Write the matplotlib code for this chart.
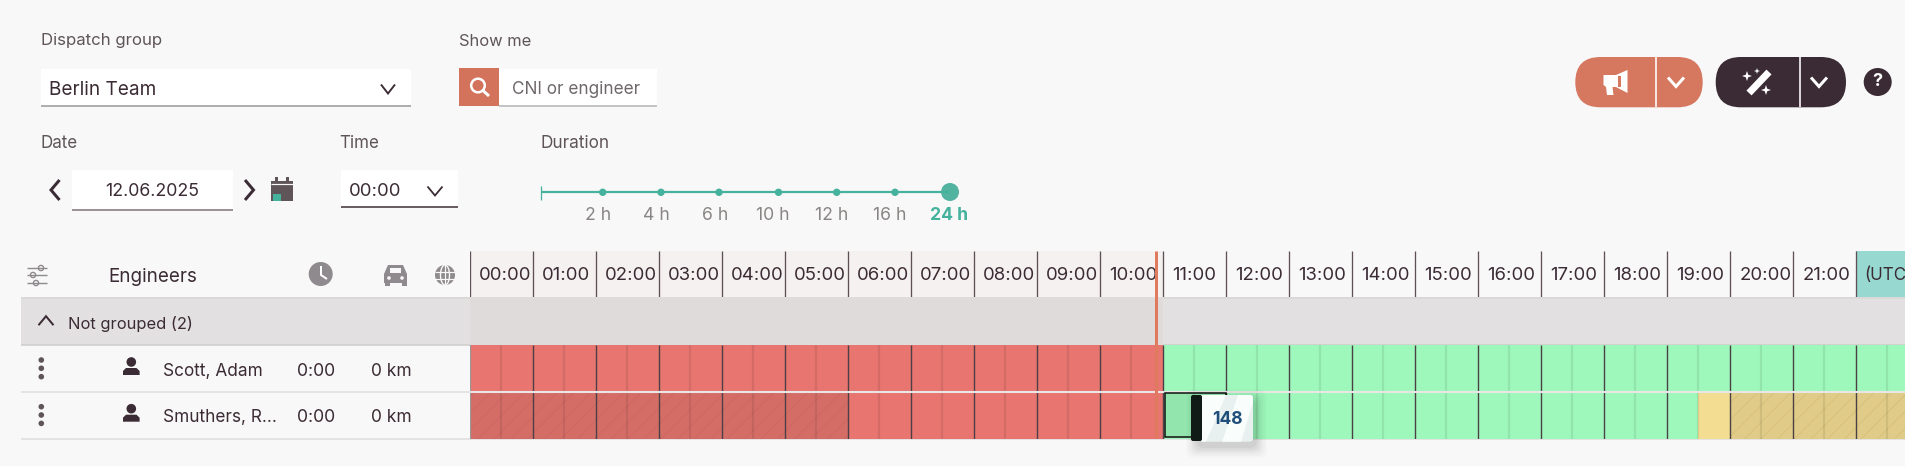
import matplotlib
matplotlib.use("Agg")
import matplotlib.pyplot as plt
from matplotlib.patches import Rectangle, FancyBboxPatch, Circle, Polygon, Ellipse

W, H = 1906, 466
plt.rcParams['font.family'] = ['Inter', 'DejaVu Sans']
plt.rcParams['hatch.linewidth'] = 0.8

# ---- data ----
hour_labels = ["00:00","01:00","02:00","03:00","04:00","05:00","06:00","07:00","08:00","09:00","10:00",
               "11:00","12:00","13:00","14:00","15:00","16:00","17:00","18:00","19:00","20:00","21:00"]
duration_labels = ["2 h","4 h","6 h","10 h","12 h","16 h","24 h"]
engineers = ["Scott, Adam","Smuthers, R..."]
eng_hours = ["0:00","0:00"]
eng_km = ["0 km","0 km"]
# half-hour slots per engineer: p=past red, h=past hatched, g=free green, y=yellow, t=hatched tan
slots_scott = "p"*22 + "g"*24
slots_smuthers = "h"*12 + "p"*10 + "g"*17 + "y"*1 + "t"*6
tooltip_value = "148"

SLOT = {'p':('#e8756f',None,None),'h':('#d56d67','#cf6863','//'),'g':('#9ef8bb',None,None),
        'y':('#f3dd93',None,None),'t':('#e0cc88','#d8c27c','//')}
BG='#f8f8f8'; DARK='#3b2b34'; GREY='#5f5558'; TEAL='#45b29d'; ORANGE='#d67860'; ICON='#8f8a8d'

fig = plt.figure(figsize=(W/100, H/100), dpi=100, facecolor=BG)

def px_axes(z):
    a = fig.add_axes([0,0,1,1], zorder=z)
    a.set_xlim(0,W); a.set_ylim(H,0); a.axis('off'); a.patch.set_alpha(0)
    return a
ui = px_axes(0)
top = px_axes(5)

def fs(px): return px*0.72
def T(a,x,y,s,px=16,c=DARK,ha='left',w='normal',**k):
    return a.text(x,y,s,fontsize=fs(px),color=c,ha=ha,va='center',fontweight=w,**k)
def R(a,x0,y0,x1,y1,c,**k):
    a.add_patch(Rectangle((x0,y0),x1-x0,y1-y0,facecolor=c,edgecolor='none',**k))
def L(a,xs,ys,c=DARK,lw=1.0,**k):
    a.plot(xs,ys,color=c,lw=lw*0.72,solid_capstyle=k.pop('cap','butt'),solid_joinstyle='miter',**k)
def chev(a,x,y,c=DARK,w=7,h=4.5,lw=1.9,up=False):
    s=-1 if up else 1
    L(a,[x-w,x,x+w],[y-s*h,y+s*h,y-s*h],c,lw)
def pill(a,x0,y0,x1,y1,c):
    r=(y1-y0)/2
    a.add_patch(FancyBboxPatch((x0+r,y0+r),x1-x0-2*r,0.01,boxstyle=f"round,pad={r},rounding_size={r}",
                               facecolor=c,edgecolor='none',mutation_aspect=1))

# ---- form controls ----
T(ui,41,41,"Dispatch group",16.8,GREY)
T(ui,459,41,"Show me",16.5,GREY)
R(ui,41,69,411,105,'white'); L(ui,[41,411],[105.5,105.5],'#9a9698',1.5)
T(ui,49,90,"Berlin Team",19,DARK); chev(ui,388,89)
R(ui,499,69,657,105,'white'); L(ui,[499,657],[105.5,105.5],'#b5b2b3',1.5)
T(ui,512,89,"CNI or engineer",17.2,'#6f686b')
R(ui,459,68,499,105.5,'#d4735c')
ui.add_patch(Circle((478,85.5),6.8,facecolor='none',edgecolor='white',lw=1.8))
L(ui,[483,489],[90.5,96],'white',3)

T(ui,41,143.5,"Date",17,GREY); T(ui,339.5,143.5,"Time",17,GREY); T(ui,540.5,143.5,"Duration",17.2,GREY)
L(ui,[59.5,51,59.5],[180,190,200],DARK,3)
R(ui,72,170,232.6,209,'white'); L(ui,[72,232.6],[209.5,209.5],'#7f7276',1.5)
T(ui,152,192,"12.06.2025",17.8,DARK,ha='center')
L(ui,[245,253.5,245],[180,190,200],DARK,3)
R(ui,271,181,293,201,'#5f5558'); R(ui,275,177,278,181,'#5f5558'); R(ui,286,177,289,181,'#5f5558')
L(ui,[271,293],[184,184],BG,1.2); R(ui,273,194,281,201,TEAL)
R(ui,341,170,458.5,206.5,'white'); L(ui,[341,458.5],[207,207],DARK,1.5)
T(ui,348.7,192,"00:00",18.5,DARK); chev(ui,435,191,DARK,w=7.5,h=4.5,lw=1.8)

# slider
sx=[602.7,661,719,778.5,836.7,895,950]
lx=[598.7,657,715.7,774,832.7,891,949.7]
L(ui,[541,950],[192.3,192.3],TEAL,2.2); L(ui,[541,541],[185.5,200],TEAL,1.3)
for x in sx[:-1]:
    ui.add_patch(Circle((x,192.3),3.7,facecolor=TEAL,edgecolor='none'))
ui.add_patch(Circle((sx[-1],192),9,facecolor='#52b3a0',edgecolor='none'))
for i,(x,s) in enumerate(zip(lx,duration_labels)):
    last=i==len(lx)-1
    T(ui,x-1,215.5,s,17.6,TEAL if last else '#8a8585',ha='center',w='bold' if last else 'normal')

# buttons
pill(ui,1575.3,57,1702.7,107.3,ORANGE)
L(ui,[1656.3,1656.3],[57,107],'white',1.6)
ui.add_patch(Polygon([(1603.5,75),(1616,75),(1627.5,70),(1627.5,93),(1616,87),(1612.5,87),(1613.5,95),(1607,95),(1606,87),(1603.5,85)],facecolor='white',edgecolor='none'))
R(ui,1618.5,76,1621,87,ORANGE)
chev(ui,1676,82,'white',w=8,h=4.5,lw=3)
pill(ui,1715.7,57,1846,107.3,DARK)
L(ui,[1800,1800],[57,107],'white',1.6)
L(ui,[1749,1769],[93,72],'white',7)
for (x,y,r) in [(1747,76,5),(1757,71,3),(1766,90,5)]:
    ui.add_patch(Polygon([(x-r,y),(x-r*.25,y-r*.25),(x,y-r),(x+r*.25,y-r*.25),(x+r,y),(x+r*.25,y+r*.25),(x,y+r),(x-r*.25,y+r*.25)],facecolor='white',edgecolor='none'))
chev(ui,1819,82,'white',w=8,h=4.5,lw=3)
ui.add_patch(Circle((1877.7,82),14,facecolor=DARK,edgecolor='none'))
T(ui,1877.7,82,"?",18,'white',ha='center',w='bold')

# ---- table left side ----
for y,cx in [(268,41),(275,33),(283,36)]:
    L(ui,[27,47],[y,y],ICON,1.4)
    ui.add_patch(Circle((cx,y),2.6,facecolor=BG,edgecolor=ICON,lw=1))
T(ui,108.5,276.5,"Engineers",18.8,DARK)
ui.add_patch(Circle((320.7,274),12,facecolor=ICON,edgecolor='none'))
L(ui,[321,321,327],[266,275,279],'white',2)
ui.add_patch(Polygon([(384,274),(388,265),(403,265),(407,274),(407,283),(384,283)],facecolor=ICON,edgecolor='none'))
R(ui,385,282,390,285.5,ICON); R(ui,402,282,407,285.5,ICON)
R(ui,390,267.5,401,273,BG)
ui.add_patch(Circle((389,278),1.8,facecolor=BG,edgecolor='none')); ui.add_patch(Circle((402,278),1.8,facecolor=BG,edgecolor='none'))
ui.add_patch(Circle((445,275),10,facecolor=ICON,edgecolor='none'))
ui.add_patch(Ellipse((445,275),9,20,facecolor='none',edgecolor=BG,lw=1))
L(ui,[445,445],[265,285],BG,1.2); L(ui,[435,455],[272,272],BG,1.2); L(ui,[435,455],[278.5,278.5],BG,1.2)

R(ui,21,297,W,345,'#e2e0e1')
L(ui,[21,W],[297.5,297.5],'#d9d6d6',1.5); L(ui,[21,W],[344.7,344.7],'#cfcbcb',1.5)
chev(ui,46,320.7,DARK,w=7.5,h=4.5,lw=2,up=True)
T(ui,68.3,323.5,"Not grouped (2)",16.5,DARK)
L(ui,[21,471],[391.7,391.7],'#e0dede',1.5); L(ui,[21,W],[438.7,438.7],'#dedcdc',1.5)

for i,(nm,hr,km) in enumerate(zip(engineers,eng_hours,eng_km)):
    y=370+i*46.7
    for d in (-10,-1.7,6.7):
        ui.add_patch(Circle((41.3,y+d),2.8,facecolor='#5f5558',edgecolor='none'))
    ui.add_patch(Circle((131.3,y-8),4.8,facecolor=DARK,edgecolor='none'))
    ui.add_patch(Polygon([(123,y+5),(123,y+1),(126,y-2),(136.5,y-2),(139.6,y+1),(139.6,y+5)],facecolor=DARK,edgecolor='none'))
    T(ui,162.7,y+1.2,nm,17.2,DARK); T(ui,296.7,y+1.2,hr,17.6,DARK); T(ui,371.3,y+1.2,km,17.4,DARK)

# ---- timeline (x axis in hours) ----
X0=469.9; HOUR=63.0; N_HOURS=(W-X0)/HOUR
def time_axes(y0,y1,z):
    a=fig.add_axes([X0/W,1-y1/H,(W-X0)/W,(y1-y0)/H],zorder=z)
    a.set_xlim(0,N_HOURS); a.axis('off'); a.patch.set_alpha(0)
    return a
hdr=time_axes(250.7,296.7,1); hdr.set_ylim(0,1)
now_hour=11
hdr.bar([i+.5 for i in range(now_hour)],1,width=1,bottom=0,color='#f5f1f0',linewidth=0)
hdr.bar([22+(N_HOURS-22)/2],1,width=N_HOURS-22,bottom=0,color='#97d9d1',linewidth=0)
hdr.vlines(range(0,23),0,1,color='#5f5055',lw=0.95)
for i,s in enumerate(hour_labels):
    hdr.text(i+.149,.46,s,fontsize=fs(18.5),color=DARK,ha='left',va='center')
hdr.text(22.14,.46,"(UTC",fontsize=fs(17),color=DARK,ha='left',va='center')

band=time_axes(297,345,1); band.set_ylim(0,1)
band.bar(now_hour/2,1,width=now_hour,color='#dfdbda',linewidth=0)

rows=time_axes(345,438.5,2); rows.set_ylim(2,0)
for r,slots in enumerate([slots_scott,slots_smuthers]):
    for st in 'phgyt':
        xs=[j*.5+.25 for j,c in enumerate(slots) if c==st]
        if not xs: continue
        fc,ec,ht=SLOT[st]
        rows.bar(xs,1,width=.5,bottom=r,color=fc,edgecolor=ec if ec else fc,hatch=ht,linewidth=0,align='center')
half=[j*.5 for j in range(1,46,2)]
rows.vlines(half,0,2,color='#000000',alpha=.08,lw=1.6)
rows.vlines(range(1,23),0,2,color='#4a4045',lw=1.0)
rows.vlines([0],0,2,color='#9a9698',lw=1.6)
rows.hlines(1,0,N_HOURS,color='#e8e6e6',lw=1.5)

# ---- selection + tooltip + now-line ----
R(top,1165,393,1226,437,'#000000',alpha=.07)
top.add_patch(Rectangle((1165,393),61,44,facecolor='none',edgecolor='#111111',lw=1.1))
for grow,al in [(24,.015),(20,.02),(16,.025),(12,.03),(8,.035),(4,.04)]:
    top.add_patch(FancyBboxPatch((1198-grow/2,397-grow/2+4),57+grow,45+grow,boxstyle="round,pad=0,rounding_size=8",facecolor='#000000',edgecolor='none',alpha=al))
tip=FancyBboxPatch((1200,395),53,46.7,boxstyle="round,pad=0,rounding_size=3",facecolor='#e9f1f0',edgecolor='none')
top.add_patch(tip)
for pts in ([(1200,395),(1226,395),(1206,442),(1200,442)],[(1238,395),(1253,395),(1253,402),(1241,442),(1222,442)]):
    p=Polygon(pts,facecolor='#f9fdfc',edgecolor='none'); top.add_patch(p); p.set_clip_path(tip)
top.add_patch(FancyBboxPatch((1191,395),11,46,boxstyle="round,pad=0,rounding_size=2",facecolor='#101a16',edgecolor='none'))
T(top,1227,419.3,tooltip_value,17.5,'#1f4e7a',ha='center',w='bold')
L(top,[1156,1156],[250.7,438],'#e07a5f',3)

fig.savefig("out.png",dpi=100,facecolor=BG)
